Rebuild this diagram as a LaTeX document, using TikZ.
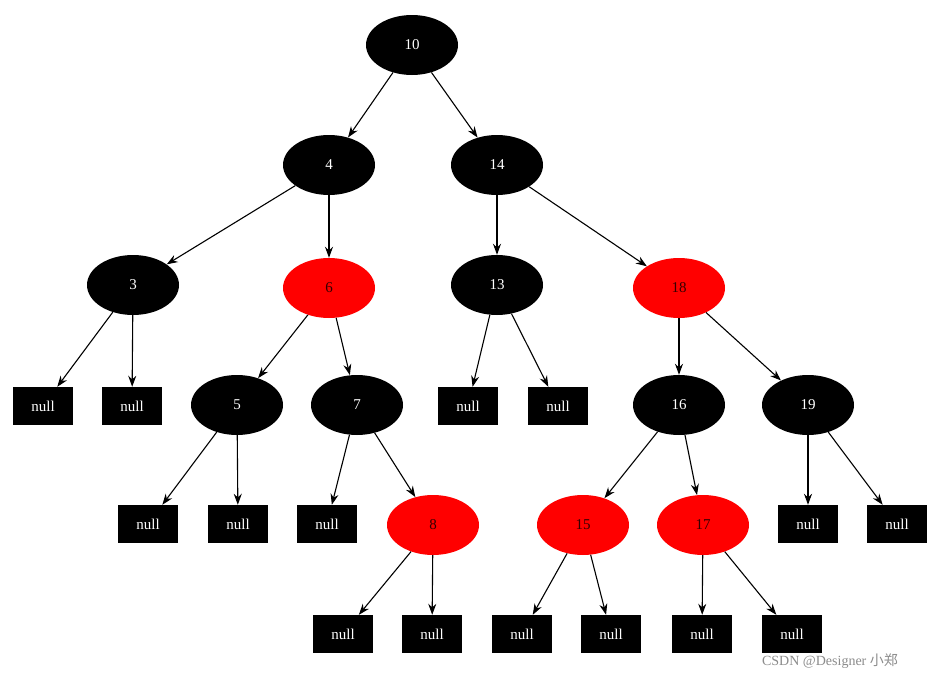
\documentclass[tikz,border=0pt]{standalone}
\usepackage{fontspec}
\setmainfont{Liberation Serif}
\newfontfamily\cjk{Noto Sans CJK SC}
\usetikzlibrary{arrows.meta,shapes.geometric}
\begin{document}
\begin{tikzpicture}[x=1pt,y=-1pt,
  bn/.style={ellipse,fill=black,text=white,minimum width=92pt,minimum height=60pt,inner sep=0pt,font=\fontsize{15}{17}\selectfont},
  rn/.style={ellipse,fill=red,text=black!80!red,minimum width=92pt,minimum height=60pt,inner sep=0pt,font=\fontsize{15}{17}\selectfont},
  nl/.style={rectangle,fill=black,text=white,minimum width=60pt,minimum height=38pt,inner sep=0pt,font=\fontsize{15}{17}\selectfont},
  ed/.style={draw=black,line width=1.1pt,-{Stealth[length=11pt,width=8pt]}}]
\useasboundingbox (0,0) rectangle (943,680);
\fill[white] (0,0) rectangle (943,680);
\node[bn] (n10) at (412,45) {10};
\node[bn] (n4) at (329,165) {4};
\node[bn] (n14) at (497,165) {14};
\node[bn] (n3) at (133,285) {3};
\node[rn] (n6) at (329,288) {6};
\node[bn] (n13) at (497,285) {13};
\node[rn] (n18) at (679,288) {18};
\node[nl] (a1) at (43,406) {null};
\node[nl] (a2) at (132,406) {null};
\node[bn] (n5) at (237,405) {5};
\node[bn] (n7) at (357,405) {7};
\node[nl] (a3) at (468,406) {null};
\node[nl] (a4) at (558,406) {null};
\node[bn] (n16) at (679,405) {16};
\node[bn] (n19) at (808,405) {19};
\node[nl] (b1) at (148,524) {null};
\node[nl] (b2) at (238,524) {null};
\node[nl] (b3) at (327,524) {null};
\node[rn] (n8) at (433,525) {8};
\node[rn] (n15) at (583,525) {15};
\node[rn] (n17) at (703,525) {17};
\node[nl] (b4) at (808,524) {null};
\node[nl] (b5) at (897,524) {null};
\node[nl] (c1) at (343,634) {null};
\node[nl] (c2) at (432,634) {null};
\node[nl] (c3) at (522,634) {null};
\node[nl] (c4) at (611,634) {null};
\node[nl] (c5) at (702,634) {null};
\node[nl] (c6) at (792,634) {null};
\foreach \p/\c in {n10/n4,n10/n14,n4/n3,n4/n6,n14/n13,n14/n18,n3/a1,n3/a2,n6/n5,n6/n7,n13/a3,n13/a4,n18/n16,n18/n19,n5/b1,n5/b2,n7/b3,n7/n8,n16/n15,n16/n17,n19/b4,n19/b5,n8/c1,n8/c2,n15/c3,n15/c4,n17/c5,n17/c6}
  \draw[ed] (\p) -- (\c);
\node[text=black!45,font=\fontsize{14}{16}\selectfont] (wm) at (830,661) {CSDN @Designer {\cjk 小郑}};
\end{tikzpicture}
\end{document}
